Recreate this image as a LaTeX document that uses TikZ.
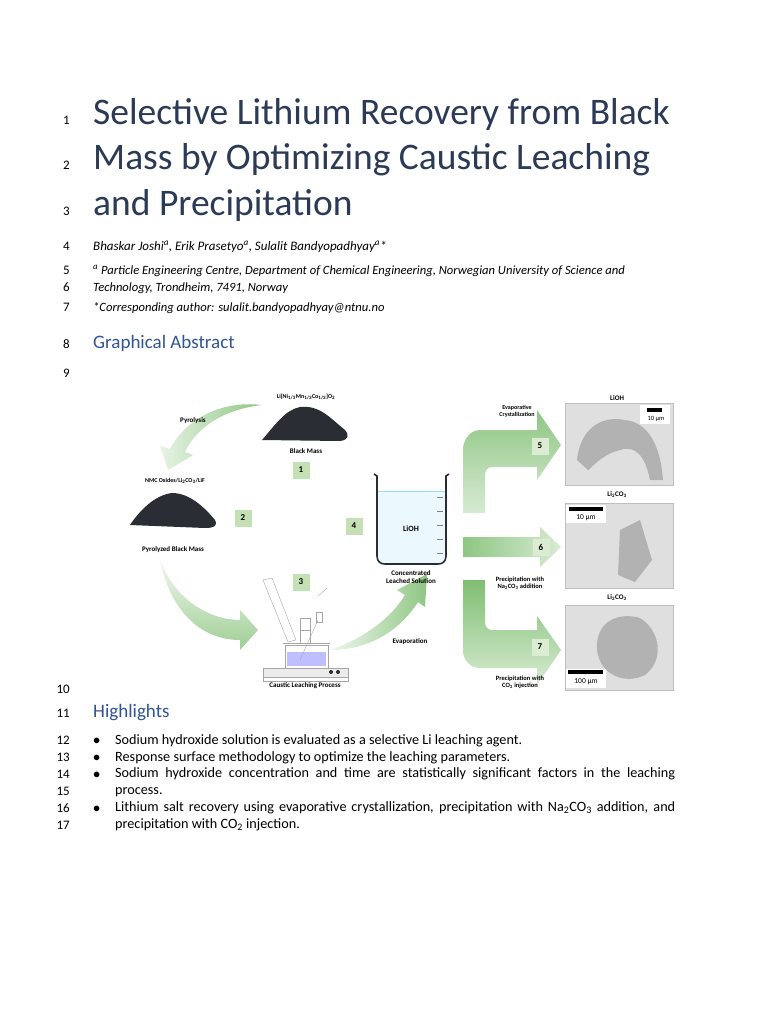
\documentclass[tikz,border=0pt]{standalone}
\usepackage{fontspec}
\setmainfont{Carlito}
\usetikzlibrary{shapes.geometric}
\definecolor{ttl}{HTML}{2B3A55}
\definecolor{hd}{HTML}{2F5597}
\definecolor{gbox}{HTML}{C5E0B4}
\definecolor{garr}{HTML}{5FAE4E}
\definecolor{blk}{HTML}{2A2D33}
\begin{document}
\begin{tikzpicture}[x=1pt,y=-1pt,
 ln/.style={anchor=base east,inner sep=0pt,font=\fontsize{13}{13}\selectfont},
 tt/.style={anchor=base west,inner sep=0pt,text=ttl,font=\fontsize{37.5}{37}\selectfont},
 bd/.style={anchor=base west,inner sep=0pt,font=\fontsize{14.2}{17}\selectfont},
 it/.style={anchor=base west,inner sep=0pt,font=\itshape\fontsize{13}{14}\selectfont},
 hdg/.style={anchor=base west,inner sep=0pt,text=hd,font=\fontsize{19}{19}\selectfont},
 num/.style={fill=gbox,minimum size=17pt,inner sep=0pt,font=\bfseries\fontsize{9}{9}\selectfont},
 lab/.style={font=\bfseries\fontsize{7}{8}\selectfont,align=center},
 sem/.style={fill=gray!25,draw=gray!50},
 pile/.style={fill=blk}]
\useasboundingbox (0,0) rectangle (768,1024);
\fill[white] (0,0) rectangle (768,1024);
% line numbers
\foreach \n/\y in {1/125,2/170,3/215,4/250,5/274,6/291,7/311,8/348,9/377,10/693,11/717,12/744,13/761,14/778,15/795,16/812,17/829}{\node[ln] (l\n) at (70,\y) {\n};}
% title
\node[tt] (t1) at (93,125) {Selective Lithium Recovery from Black};
\node[tt] (t2) at (93,170) {Mass by Optimizing Caustic Leaching};
\node[tt] (t3) at (93,215) {and Precipitation};
\node[it] (au) at (93,250) {Bhaskar Joshi\textsuperscript{a}, Erik Prasetyo\textsuperscript{a}, Sulalit Bandyopadhyay\textsuperscript{a}*};
\node[it,font=\itshape\fontsize{12.6}{14}\selectfont] (af1) at (93,274) {\textsuperscript{a} Particle Engineering Centre, Department of Chemical Engineering, Norwegian University of Science and};
\node[it,font=\itshape\fontsize{12.6}{14}\selectfont] (af2) at (93,291) {Technology, Trondheim, 7491, Norway};
\node[it,font=\itshape\fontsize{12.6}{14}\selectfont] (ca) at (93,311) {*Corresponding author: sulalit.bandyopadhyay@ntnu.no};
\node[hdg] (ga) at (93,348) {Graphical Abstract};
% ---- graphical abstract ----
\shade[left color=garr!15,right color=garr!70] (262,405) .. controls (220,410) and (195,430) .. (185,452) -- (193,455) -- (168,470) -- (160,446) -- (170,449) .. controls (185,420) and (220,400) .. (262,405) -- cycle;
\shade[top color=garr!10,bottom color=garr!60] (160,560) .. controls (175,600) and (210,620) .. (240,620) -- (240,610) -- (258,630) -- (240,650) -- (240,640) .. controls (200,640) and (170,610) .. (160,560) -- cycle;
\shade[left color=garr!10,right color=garr!70] (330,650) .. controls (360,640) and (390,620) .. (405,595) -- (397,590) -- (427,574) -- (425,607) -- (418,602) .. controls (400,630) and (370,650) .. (330,650) -- cycle;
\shade[top color=garr!70,bottom color=garr!25] (463,513) -- (463,450) .. controls (463,440) and (470,430) .. (480,430) -- (537,430) -- (537,410) -- (561,445) -- (537,480) -- (537,467) -- (492,467) .. controls (488,467) and (485,470) .. (485,475) -- (485,513) -- cycle;
\shade[left color=garr!70,right color=garr!25] (463,537) -- (540,537) -- (540,527) -- (561,547) -- (540,567) -- (540,557) -- (463,557) -- cycle;
\shade[top color=garr!80,bottom color=garr!25] (463,580) -- (485,580) -- (485,622) .. controls (485,627) and (488,630) .. (492,630) -- (537,630) -- (537,616) -- (561,650) -- (537,685) -- (537,668) -- (480,668) .. controls (470,668) and (463,660) .. (463,650) -- cycle;
% piles
\path[pile] (262,440) .. controls (275,425) and (285,410) .. (300,407) .. controls (320,405) and (330,418) .. (345,430) .. controls (350,436) and (348,440) .. (340,441) -- cycle;
\path[pile] (130,525) .. controls (140,510) and (155,495) .. (172,493) .. controls (190,493) and (205,508) .. (215,520) .. controls (218,526) and (214,528) .. (205,528) -- cycle;
% beaker
\fill[cyan!8] (377,491) -- (446,491) -- (446,556) .. controls (446,562) and (442,564) .. (438,564) -- (385,564) .. controls (381,564) and (377,562) .. (377,556) -- cycle;
\draw[cyan!40] (377,491) -- (446,491);
\draw[blk,line width=1.6pt] (374,474) -- (377,476) -- (377,556) .. controls (377,562) and (381,564) .. (385,564) -- (438,564) .. controls (442,564) and (446,562) .. (446,556) -- (446,476) -- (449,474);
\foreach \y in {497,511,525,539,553}{\draw[gray] (437,\y) -- (443,\y);}
\node[lab,font=\bfseries\fontsize{8}{8}\selectfont] (lioh) at (411,529) {LiOH};
% reactor
\draw[gray!70,fill=white] (285,645) rectangle (328,668);
\fill[blue!25] (287,652) rectangle (326,666);
\draw[gray!70] (283,643) -- (330,643);
\draw[gray!70] (300,630) rectangle (310,643);
\draw[gray!70] (300,618) rectangle (310,630);
\draw[gray!70] (263,580) -- (272,578) -- (296,640) -- (288,642) -- cycle;
\draw[gray!70] (318,620) -- (300,660);
\draw[gray!70] (316,612) rectangle (322,622);
\draw[gray!70] (318,596) -- (327,588);
\draw[gray!70,fill=gray!15] (263,668) rectangle (348,677);
\draw[gray!70] (263,677) -- (348,677) -- (348,681) -- (263,681) -- cycle;
\fill[blk] (331,672) circle (2) (338,672) circle (2);
% SEM panels
\path[sem] (565,403) rectangle (673,485);
\fill[gray!60] (577,460) .. controls (580,430) and (600,415) .. (625,420) .. controls (645,422) and (660,440) .. (663,480) -- (650,480) .. controls (645,455) and (635,445) .. (620,450) .. controls (600,455) and (590,470) .. (588,470) -- cycle;
\path[sem] (565,503) rectangle (673,588);
\fill[gray!60] (620,530) -- (640,520) -- (652,560) -- (635,582) -- (618,575) -- cycle;
\path[sem] (565,605) rectangle (673,690);
\fill[gray!60] (597,650) .. controls (595,620) and (620,612) .. (640,618) .. controls (660,630) and (665,660) .. (645,675) .. controls (625,685) and (600,675) .. (597,650) -- cycle;
\fill[white] (640,405) rectangle (670,424); \fill[black] (647,408) rectangle (662,412);
\node[font=\fontsize{6.5}{6}\selectfont] at (656,419) {10 µm};
\fill[white] (566,505) rectangle (606,523); \fill[black] (569,507) rectangle (603,511);
\node[font=\fontsize{7.5}{7}\selectfont] at (586,518) {10 µm};
\fill[white] (566,669) rectangle (606,688); \fill[black] (568,670) rectangle (603,674);
\node[font=\fontsize{7.5}{7}\selectfont] at (586,682) {100 µm};
% numbers
\node[num] (n1) at (301,470) {1};
\node[num] (n2) at (243,518) {2};
\node[num] (n3) at (301,582) {3};
\node[num] (n4) at (354,526) {4};
\node[num,fill=gbox!60] (n5) at (540,446) {5};
\node[num,fill=gbox!60] (n6) at (541,547) {6};
\node[num,fill=gbox!60] (n7) at (540,647) {7};
% labels
\node[lab,font=\bfseries\fontsize{6}{6}\selectfont] at (306,397) {Li[Ni\textsubscript{1/3}Mn\textsubscript{1/3}Co\textsubscript{1/3}]O\textsubscript{2}};
\node[lab] at (193,421) {Pyrolysis};
\node[lab] at (306,451) {Black Mass};
\node[lab,font=\bfseries\fontsize{6}{6}\selectfont] at (175,481) {NMC Oxides/Li\textsubscript{2}CO\textsubscript{3}/LiF};
\node[lab] at (173,550) {Pyrolyzed Black Mass};
\node[lab] at (305,686) {Caustic Leaching Process};
\node[lab] at (410,642) {Evaporation};
\node[lab] at (411,577) {Concentrated\\Leached Solution};
\node[lab,font=\bfseries\fontsize{6}{7}\selectfont] at (517,411) {Evaporative\\Crystallization};
\node[lab] at (617,398) {LiOH};
\node[lab] at (617,495) {Li\textsubscript{2}CO\textsubscript{3}};
\node[lab] at (617,598) {Li\textsubscript{2}CO\textsubscript{3}};
\node[lab,font=\bfseries\fontsize{6.5}{7}\selectfont] at (520,583) {Precipitation with\\Na\textsubscript{2}CO\textsubscript{3} addition};
\node[lab,font=\bfseries\fontsize{6.5}{7}\selectfont] at (520,682) {Precipitation with\\CO\textsubscript{2} injection};
% highlights
\node[hdg] (hl) at (93,717) {Highlights};
\foreach \y in {744,761,778,812}{\node[bd] at (93,\y) {$\bullet$};}
\node[bd] (h1) at (115,744) {Sodium hydroxide solution is evaluated as a selective Li leaching agent.};
\node[bd] (h2) at (115,761) {Response surface methodology to optimize the leaching parameters.};
\node[bd,text width=560pt,align=justify,anchor=north west] (h3) at (115,767.5) {\hyphenpenalty=10000 Sodium hydroxide concentration and time are statistically significant factors in the leaching\linebreak process.};
\node[bd,text width=560pt,align=justify,anchor=north west] (h4) at (115,801.5) {\hyphenpenalty=10000 Lithium salt recovery using evaporative crystallization, precipitation with Na\textsubscript{2}CO\textsubscript{3} addition, and\linebreak precipitation with CO\textsubscript{2} injection.};
\end{tikzpicture}
\end{document}
